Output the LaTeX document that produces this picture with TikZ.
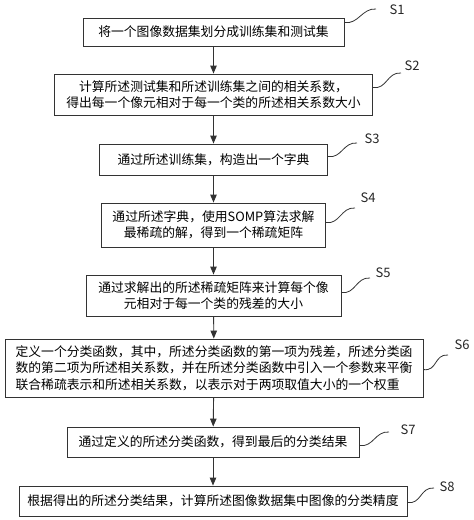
\documentclass[tikz,border=0pt]{standalone}
\usepackage{fontspec}
\setmainfont{Noto Sans CJK SC}
\usetikzlibrary{arrows.meta,calc}
\tikzset{
  stepbox/.style={draw=black!80, line width=0.9pt, fill=white, inner sep=0pt,
    align=center, font=\fontsize{12.8}{16.5}\selectfont},
  flow/.style={draw=black!80, line width=0.9pt, -{Triangle[length=8pt,width=6.5pt]}},
  squig/.style={draw=black!80, line width=0.8pt},
  lbl/.style={font=\fontsize{13}{15}\selectfont, text=black!85, inner sep=0pt}
}
\begin{document}
\begin{tikzpicture}[x=1pt,y=-1pt]
\useasboundingbox (0,0) rectangle (474,520);
% boxes
\node[stepbox, minimum width=261pt, minimum height=28pt] (s1) at (213.5,32) {将一个图像数据集划分成训练集和测试集};
\node[stepbox, minimum width=318pt, minimum height=41pt] (s2) at (213.5,94.5) {计算所述测试集和所述训练集之间的相关系数，\\得出每一个像元相对于每一个类的所述相关系数大小};
\node[stepbox, minimum width=228pt, minimum height=31pt] (s3) at (213.5,159.5) {通过所述训练集，构造出一个字典};
\node[stepbox, minimum width=224pt, minimum height=44pt] (s4) at (213.5,225) {通过所述字典，使用SOMP算法求解\\最稀疏的解，得到一个稀疏矩阵};
\node[stepbox, minimum width=255pt, minimum height=41pt] (s5) at (213.5,295.5) {通过求解出的所述稀疏矩阵来计算每个像\\元相对于每一个类的残差的大小};
\node[stepbox, minimum width=418pt, minimum height=58pt, align=left] (s6) at (214,368) {定义一个分类函数，其中，所述分类函数的第一项为残差，所述分类函\\数的第二项为所述相关系数，并在所述分类函数中引入一个参数来平衡\\联合稀疏表示和所述相关系数，以表示对于两项取值大小的一个权重};
\node[stepbox, minimum width=292pt, minimum height=30pt] (s7) at (213,442) {通过定义的所述分类函数，得到最后的分类结果};
\node[stepbox, minimum width=388pt, minimum height=30pt] (s8) at (213,501) {根据得出的所述分类结果，计算所述图像数据集中图像的分类精度};
% arrows
\draw[flow] (s1) -- (s2);
\draw[flow] (s2) -- (s3);
\draw[flow] (s3) -- (s4);
\draw[flow] (s4) -- (s5);
\draw[flow] (s5) -- (s6);
\draw[flow] (s6) -- (s7);
\draw[flow] (s7) -- (s8);
% labels
\node[lbl] (l1) at (397,10) {S1};
\node[lbl] (l2) at (412,66) {S2};
\node[lbl] (l3) at (372,139) {S3};
\node[lbl] (l4) at (368,198) {S4};
\node[lbl] (l5) at (383,273) {S5};
\node[lbl] (l6) at (462,345) {S6};
\node[lbl] (l7) at (408,430) {S7};
\node[lbl] (l8) at (447,487) {S8};
% squiggles
\coordinate (e1) at (376,9);
\coordinate (e2) at (401,73);
\coordinate (e3) at (357,143);
\coordinate (e4) at (355,208);
\coordinate (e5) at (370,278);
\coordinate (e6) at (448,355);
\coordinate (e7) at (389,432);
\coordinate (e8) at (434,488);
\draw[squig] ($(s1.north east)+(0,5)$) .. controls +(14,2) and +(-14,-1) .. (e1);
\draw[squig] ($(s2.north east)+(0,14)$) .. controls +(14,2) and +(-14,-1) .. (e2);
\draw[squig] ($(s3.north east)+(0,13)$) .. controls +(14,2) and +(-14,-1) .. (e3);
\draw[squig] ($(s4.north east)+(0,20)$) .. controls +(14,2) and +(-14,-1) .. (e4);
\draw[squig] ($(s5.north east)+(0,18)$) .. controls +(14,2) and +(-14,-1) .. (e5);
\draw[squig] ($(s6.north east)+(0,31)$) .. controls +(14,2) and +(-14,-1) .. (e6);
\draw[squig] ($(s7.north east)+(0,19)$) .. controls +(14,2) and +(-14,-1) .. (e7);
\draw[squig] ($(s8.north east)+(0,17)$) .. controls +(14,2) and +(-14,-1) .. (e8);
\end{tikzpicture}
\end{document}
